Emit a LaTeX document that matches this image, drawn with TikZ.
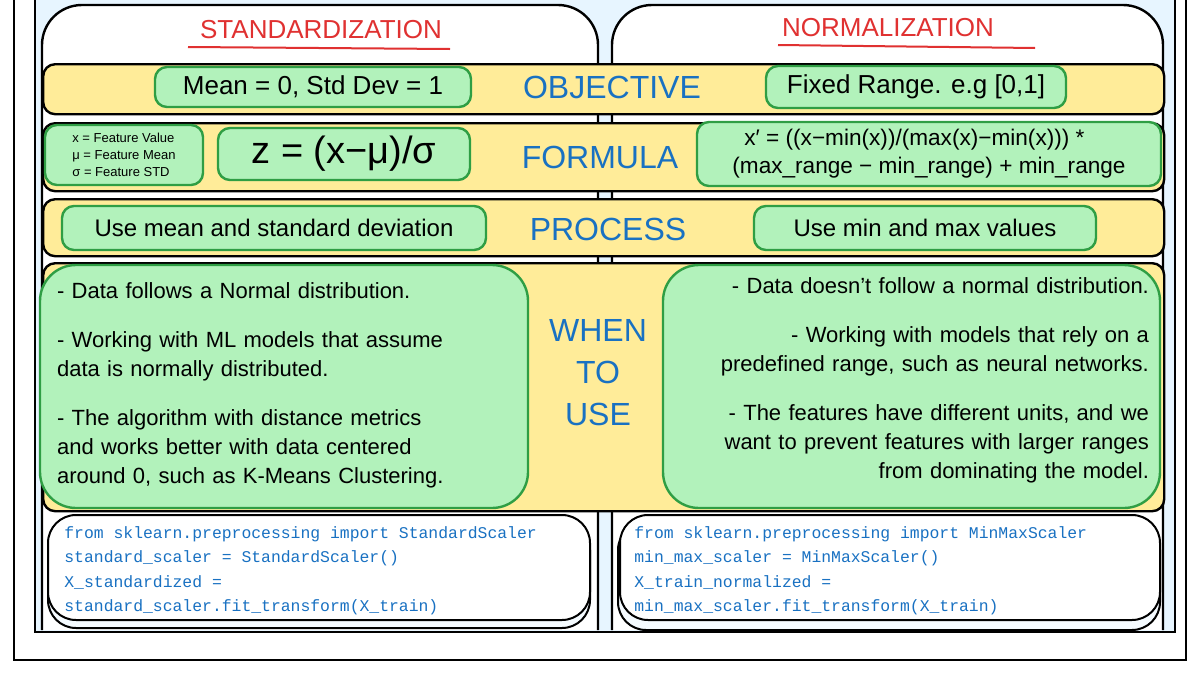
\documentclass[tikz,border=0pt]{standalone}
\usepackage{fontspec}
\setmainfont{Liberation Sans}
\newfontfamily\codefont{Liberation Mono}
\definecolor{bandy}{HTML}{FFEC99}
\definecolor{gfill}{HTML}{B2F2BB}
\definecolor{gdraw}{HTML}{2F9E44}
\definecolor{tblue}{HTML}{1971C2}
\definecolor{tred}{HTML}{E03131}
\definecolor{bgblue}{HTML}{E7F5FF}
\begin{document}
\begin{tikzpicture}[x=0.5pt,y=-0.5pt,
  band/.style={draw=black,line width=1.2pt,fill=bandy,rounded corners=6pt},
  gbox/.style={draw=gdraw,line width=1.2pt,fill=gfill,rounded corners=6pt},
  col/.style={draw=black,line width=1.2pt,fill=white,rounded corners=20pt},
  cbox/.style={draw=black,line width=1pt,fill=bgblue!40!white,rounded corners=14pt},
  ttl/.style={text=tblue,font=\fontsize{16}{18}\selectfont},
  txt/.style={font=\fontsize{11}{14.5}\selectfont},
  code/.style={text=tblue,font=\codefont\fontsize{8.2}{12.2}\selectfont,align=left,anchor=north west,inner sep=1pt}]
\hyphenpenalty=10000
\useasboundingbox (0,0) rectangle (1200,675);
\fill[white] (0,0) rectangle (1200,675);
\draw[line width=1.4pt] (14,-5) rectangle (1186,660);
\draw[line width=1pt,fill=bgblue] (35,-5) rectangle (1175,632);
% columns
\draw[col] (42,630) -- (42,5) -- (598,5) -- (598,630);
\draw[col] (612,630) -- (612,5) -- (1163,5) -- (1163,630);
\node (st) [text=tred,font=\fontsize{13}{15}\selectfont] at (321,30) {STANDARDIZATION};
\draw[tred,line width=1pt] (188,47) -- (450,49);
\node (no) [text=tred,font=\fontsize{13}{15}\selectfont] at (888,28) {NORMALIZATION};
\draw[tred,line width=1pt] (778,45) -- (1035,48);
% bands
\node (b1) [band,minimum width=1121pt*0.5,minimum height=25pt,anchor=north west] at (42,63) {};
\node (b2) [band,minimum width=1121pt*0.5,minimum height=34pt,anchor=north west] at (42,122) {};
\node (b3) [band,minimum width=1121pt*0.5,minimum height=28.5pt,anchor=north west] at (42,198) {};
\node (b4) [band,minimum width=1121pt*0.5,minimum height=124pt,anchor=north west] at (42,262) {};
% objective
\node (obj) [ttl] at (612,87) {OBJECTIVE};
\node (m1) [gbox,font=\fontsize{13}{15}\selectfont,minimum width=158pt,minimum height=20pt] at (313,87) {Mean = 0, Std Dev = 1};
\node (m2) [gbox,font=\fontsize{13}{15}\selectfont,minimum width=150pt,minimum height=21pt] at (916,87) {Fixed Range. e.g [0,1]};
% formula
\node (fo) [ttl] at (600,157) {FORMULA};
\node (lg) [gbox,font=\fontsize{6.5}{8.5}\selectfont,align=left,minimum width=79pt,minimum height=30pt,inner sep=2pt] at (124,155) {x = Feature Value\\μ = Feature Mean\\σ = Feature STD};
\node (zf) [gbox,font=\fontsize{19}{21}\selectfont,minimum width=126pt,minimum height=26pt] at (344,154) {z = (x−μ)/σ};
\node (nf) [gbox,font=\fontsize{11.3}{14}\selectfont,align=left,minimum width=232pt,minimum height=32pt,inner sep=1pt] at (929,154) {\hspace*{6pt}x′ = ((x−min(x))/(max(x)−min(x))) *\\(max\_range − min\_range) + min\_range};
% process
\node (pr) [ttl] at (608,229) {PROCESS};
\node (p1) [gbox,font=\fontsize{12}{14}\selectfont,minimum width=212pt,minimum height=22pt] at (274,228) {Use mean and standard deviation};
\node (p2) [gbox,font=\fontsize{12}{14}\selectfont,minimum width=171pt,minimum height=22pt] at (925,228) {Use min and max values};
% when
\node (wh) [ttl,align=center,font=\fontsize{16}{21}\selectfont] at (598,373) {WHEN\\TO\\USE};
\draw[gbox,rounded corners=18pt] (40,265) rectangle (528,508);
\node (w1) [txt,align=left,anchor=north west,text width=220pt] at (50,275) {- Data follows a Normal distribution.\\[10pt]- Working with ML models that assume\\data is normally distributed.\\[10pt]- The algorithm with distance metrics\\and works better with data centered\\around 0, such as K-Means Clustering.};
\draw[gbox,rounded corners=18pt] (663,265) rectangle (1160,508);
\node (w2) [txt,align=right,anchor=north east,text width=245pt] at (1156,270) {- Data doesn't follow a normal distribution.\\[10pt]- Working with models that rely on a\\predefined range, such as neural networks.\\[10pt]- The features have different units, and we\\want to prevent features with larger ranges\\from dominating the model.};
% code
\draw[cbox] (48,522) rectangle (590,628);
\draw[cbox,fill=white] (48,515) rectangle (590,620);
\node (c1) [code] at (62,524) {from sklearn.preprocessing import StandardScaler\\standard\_scaler = StandardScaler()\\X\_standardized =\\standard\_scaler.fit\_transform(X\_train)};
\draw[cbox] (618,522) rectangle (1160,630);
\draw[cbox,fill=white] (620,515) rectangle (1160,620);
\node (c2) [code] at (632,524) {from sklearn.preprocessing import MinMaxScaler\\min\_max\_scaler = MinMaxScaler()\\X\_train\_normalized =\\min\_max\_scaler.fit\_transform(X\_train)};
\end{tikzpicture}
\end{document}
